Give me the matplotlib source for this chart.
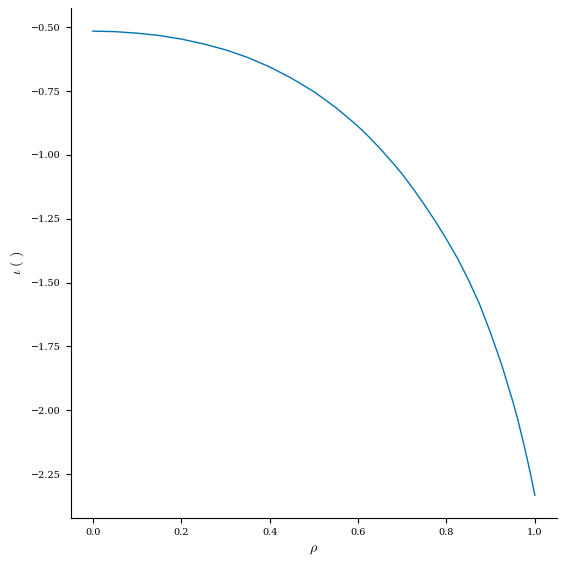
import numpy as np
from matplotlib import pyplot as plt

# rotational transform profile
rho = [0.0, 0.05, 0.1, 0.15, 0.2, 0.25, 0.3, 0.35, 0.4, 0.45, 0.5, 0.525,
       0.55, 0.575, 0.6, 0.625, 0.65, 0.675, 0.7, 0.725, 0.75, 0.775, 0.8,
       0.825, 0.85, 0.875, 0.9, 0.925, 0.95, 0.96, 0.97, 0.98, 0.99, 1.0]
iota = [-0.515, -0.517, -0.523, -0.532, -0.546, -0.565, -0.588, -0.618,
        -0.655, -0.700, -0.752, -0.783, -0.815, -0.851, -0.888, -0.930,
        -0.975, -1.024, -1.075, -1.133, -1.195, -1.260, -1.330, -1.405,
        -1.490, -1.585, -1.698, -1.822, -1.965, -2.027, -2.097, -2.170,
        -2.248, -2.333]

plt.rcParams["font.family"] = "serif"
plt.rcParams["font.serif"] = ["DejaVu Serif"]
plt.rcParams["mathtext.fontset"] = "cm"

fig, ax = plt.subplots(figsize=(5.66, 5.66), dpi=100)
fig.subplots_adjust(left=0.125, right=0.984, top=0.986, bottom=0.084)

ax.plot(rho, iota, color="#0173b2", linewidth=1)

ax.set_xlabel(r"$\rho$", fontsize=10)
ax.set_ylabel(r"$\iota ~(~)$", fontsize=10)
ax.tick_params(labelsize=7)
ax.spines["top"].set_visible(False)
ax.spines["right"].set_visible(False)

fig.savefig("out.png")
